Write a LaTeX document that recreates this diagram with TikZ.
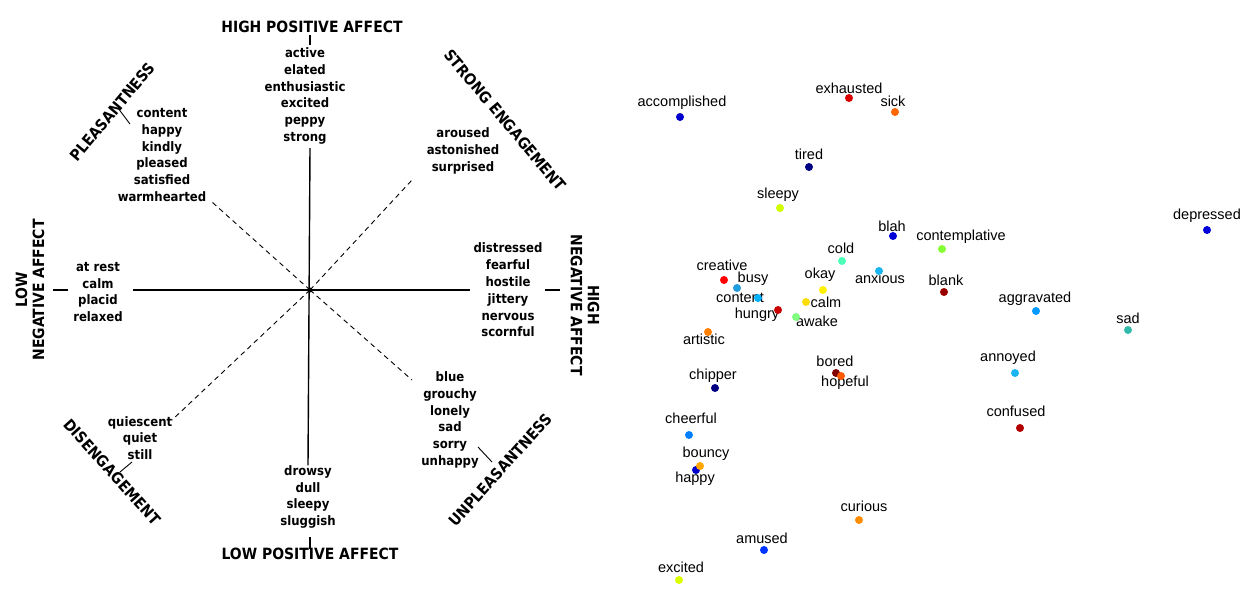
\documentclass[tikz,border=0pt]{standalone}
\usepackage{fontspec}
\setmainfont{Liberation Sans}
\newfontfamily\hand{DejaVu Sans Condensed}
\begin{document}
\begin{tikzpicture}[x=1pt,y=-1pt,
 wl/.style={font=\hand\bfseries\fontsize{13}{16.8}\selectfont,align=center,inner sep=0pt},
 captxt/.style={font=\hand\bfseries\fontsize{15.5}{17}\selectfont,align=center,inner sep=0pt},
 ax/.style={line width=1.4pt},
 dl/.style={line width=0.9pt,dash pattern=on 5pt off 4pt},
 dot/.style={circle,inner sep=0pt,minimum size=8pt,fill=#1},
 lab/.style={font=\fontsize{14.5}{15}\selectfont,inner sep=0pt}]
\useasboundingbox (0,0) rectangle (1249,595);
\coordinate (c) at (310,290);
% word lists
\node[wl] (hp) at (305,96) {active\\elated\\enthusiastic\\excited\\peppy\\strong};
\node[wl] (se) at (463,151) {aroused\\astonished\\surprised};
\node[wl] (pl) at (162,155) {content\\happy\\kindly\\pleased\\satisfied\\warmhearted};
\node[wl] (ln) at (98,292) {at rest\\calm\\placid\\relaxed};
\node[wl] (hn) at (508,290) {distressed\\fearful\\hostile\\jittery\\nervous\\scornful};
\node[wl] (de) at (140,438) {quiescent\\quiet\\still};
\node[wl] (un) at (450,420) {blue\\grouchy\\lonely\\sad\\sorry\\unhappy};
\node[wl] (lp) at (308,497) {drowsy\\dull\\sleepy\\sluggish};
% captions
\node[captxt] (t1) at (312,27) {HIGH POSITIVE AFFECT};
\node[captxt] (t2) at (310,554) {LOW POSITIVE AFFECT};
\node[captxt,rotate=-50] (t3) at (505,120) {STRONG ENGAGEMENT};
\node[captxt,rotate=50] (t4) at (112,112) {PLEASANTNESS};
\node[captxt,rotate=90] (t5) at (30,290) {LOW\\NEGATIVE AFFECT};
\node[captxt,rotate=-90] (t6) at (585,305) {HIGH\\NEGATIVE AFFECT};
\node[captxt,rotate=-48] (t7) at (112,472) {DISENGAGEMENT};
\node[captxt,rotate=48] (t8) at (500,470) {UNPLEASANTNESS};
% axes
\draw[ax] (310,148) -- (lp.north);
\draw[ax] (133,290) -- (470,290);
\draw[ax] (310,35) -- (310,45);
\draw[ax] (310,537) -- (310,549);
\draw[ax] (53,290) -- (68,290);
\draw[ax] (545,290) -- (560,290);
\draw[dl] (c) -- (212,202);
\draw[dl] (c) -- (412,180);
\draw[dl] (c) -- (172,420);
\draw[dl] (c) -- (412,380);
\draw[line width=0.9pt] (118,108) -- (130,124);
\draw[line width=0.9pt] (478,447) -- (492,462);
\draw[line width=0.9pt] (120,472) -- (132,462);
\fill (c) circle (2.5pt);
% scatter
\foreach \n/\dx/\dy/\lx/\ly/\col in {
accomplished/680/117/682/103/blue!80!black,
exhausted/849/98/849/88/red!85!black,
sick/895/112/893/101/orange!80!red,
tired/809/167/809/154/blue!50!black,
sleepy/780/208/778/195/lime!70!yellow,
blah/893/236/892/226/blue!85!black,
contemplative/942/249/961/237/green!60!yellow!80!white,
depressed/1207/230/1207/216/blue!85!black,
cold/842/261/841/248/green!40!cyan!70!white,
creative/724/280/722/265/red,
busy/737/288/753/279/cyan!80!blue!90!white,
okay/823/290/820/275/yellow,
anxious/879/271/880/278/cyan!90!white,
blank/944/292/946/280/red!60!black,
content/758/298/740/298/blue!30!cyan,
calm/806/302/826/302/yellow!80!orange,
hungry/778/310/757/315/red!80!black,
awake/796/317/817/321/green!50!white,
aggravated/1036/311/1035/299/blue!40!cyan,
sad/1128/330/1128/318/cyan!50!green!80!white,
artistic/708/332/704/339/orange,
bored/836/373/835/361/red!50!black,
hopeful/841/376/845/383/orange!70!red,
annoyed/1015/373/1008/358/cyan!90!white,
chipper/715/388/713/376/blue!50!black,
confused/1020/428/1016/411/red!70!black,
cheerful/689/435/691/418/blue!50!cyan,
happy/696/470/695/479/blue!80!black,
bouncy/700/466/706/454/orange!70!yellow,
curious/859/520/864/506/orange!90!yellow,
amused/764/550/762/538/blue!80!cyan,
excited/679/580/681/567/lime!60!yellow}
{\node[lab] (l\n) at (\lx,\ly) {\n};
 \node[dot=\col] (d\n) at (\dx,\dy) {};}
\end{tikzpicture}
\end{document}
